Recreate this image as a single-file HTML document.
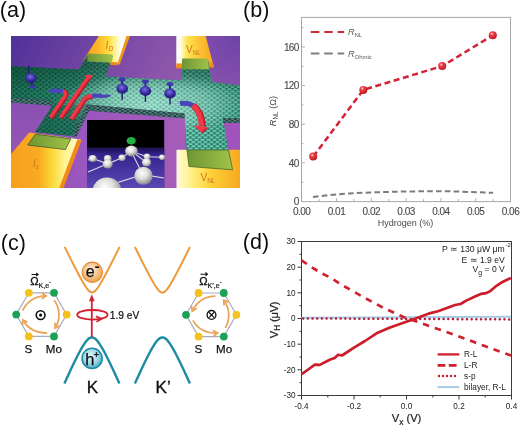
<!DOCTYPE html>
<html><head><meta charset="utf-8"><title>Figure</title>
<style>
html,body{margin:0;padding:0;background:#fff;width:520px;height:425px;overflow:hidden;}
svg{display:block;}
text{font-family:"Liberation Sans",Arial,sans-serif;}
</style></head><body>
<svg width="520" height="425" viewBox="0 0 520 425">
<defs>
  <filter id="soft" x="0" y="0" width="520" height="425" filterUnits="userSpaceOnUse"><feGaussianBlur stdDeviation="0.4"/></filter>
  <filter id="softA" x="0" y="0" width="520" height="425" filterUnits="userSpaceOnUse"><feGaussianBlur stdDeviation="0.55"/></filter>
  <radialGradient id="ball" cx="0.38" cy="0.32" r="0.7">
    <stop offset="0" stop-color="#ffd6d6"/>
    <stop offset="0.3" stop-color="#f04048"/>
    <stop offset="1" stop-color="#b81525"/>
  </radialGradient>
</defs>
<g filter="url(#soft)">
<g font-size="21.5" fill="#111">
  <text x="-0.2" y="16.8">(a)</text>
  <text x="243.1" y="16.8">(b)</text>
  <text x="0.8" y="249.6">(c)</text>
  <text x="242.8" y="249">(d)</text>
</g>
<g filter="url(#softA)"><g id="panelA">
<defs>
<clipPath id="clipA"><rect x="11" y="36" width="229" height="152"/></clipPath>
<linearGradient id="bgA" x1="11" y1="36" x2="160" y2="110" gradientUnits="userSpaceOnUse">
 <stop offset="0" stop-color="#4f3198"/><stop offset="0.5" stop-color="#7446a4"/><stop offset="1" stop-color="#9058ac"/>
</linearGradient>
<linearGradient id="bgA2" x1="0" y1="100" x2="0" y2="188" gradientUnits="userSpaceOnUse">
 <stop offset="0" stop-color="#8a50b2"/><stop offset="1" stop-color="#9a58b6"/>
</linearGradient>
<linearGradient id="grA" x1="11" y1="80" x2="240" y2="100" gradientUnits="userSpaceOnUse">
 <stop offset="0" stop-color="#0c4e3c"/><stop offset="0.3" stop-color="#145c4a"/><stop offset="0.5" stop-color="#227262"/><stop offset="0.8" stop-color="#237466"/><stop offset="1" stop-color="#1f6c5c"/>
</linearGradient>
<linearGradient id="grHi" x1="11" y1="80" x2="240" y2="100" gradientUnits="userSpaceOnUse">
 <stop offset="0" stop-color="#35a070"/><stop offset="0.4" stop-color="#58c49c"/><stop offset="0.7" stop-color="#6ad4b0"/><stop offset="1" stop-color="#4cb894"/>
</linearGradient>
<pattern id="hexA" x="0" y="0" width="6" height="4.4" patternUnits="userSpaceOnUse">
 <ellipse cx="1.5" cy="1.1" rx="2.25" ry="1.15" fill="#fff"/>
 <ellipse cx="4.5" cy="3.3" rx="2.25" ry="1.15" fill="#fff"/>
 <ellipse cx="-1.5" cy="3.3" rx="2.25" ry="1.15" fill="#fff"/>
 <ellipse cx="7.5" cy="1.1" rx="2.25" ry="1.15" fill="#fff"/>
</pattern>
<mask id="hexMask" maskUnits="userSpaceOnUse" x="0" y="0" width="520" height="425"><rect x="0" y="0" width="260" height="200" fill="url(#hexA)"/></mask>
<linearGradient id="cellG" x1="11" y1="0" x2="240" y2="0" gradientUnits="userSpaceOnUse">
 <stop offset="0" stop-color="#1f7a5c"/><stop offset="0.28" stop-color="#36987c"/><stop offset="0.45" stop-color="#6ccdb2"/><stop offset="0.6" stop-color="#82dac2"/><stop offset="0.8" stop-color="#70cdb4"/><stop offset="1" stop-color="#5cbca0"/>
</linearGradient>
<linearGradient id="grShade" x1="0" y1="66" x2="0" y2="122" gradientUnits="userSpaceOnUse">
 <stop offset="0" stop-color="#0a3a2c" stop-opacity="0.55"/><stop offset="0.45" stop-color="#0a3a2c" stop-opacity="0.1"/><stop offset="1" stop-color="#0a3a2c" stop-opacity="0"/>
</linearGradient>
<pattern id="hexE" x="0" y="0" width="5.5" height="3.2" patternUnits="userSpaceOnUse">
 <ellipse cx="1.4" cy="0.8" rx="1.9" ry="0.9" fill="#5a8a84" fill-opacity="0.9"/>
 <ellipse cx="4.15" cy="2.4" rx="1.9" ry="0.9" fill="#5a8a84" fill-opacity="0.9"/>
</pattern>
<linearGradient id="goldIs" x1="11" y1="0" x2="80" y2="0" gradientUnits="userSpaceOnUse">
 <stop offset="0" stop-color="#f6a01e"/><stop offset="0.4" stop-color="#f8aa22"/><stop offset="0.6" stop-color="#fcd838"/><stop offset="0.78" stop-color="#fff490"/><stop offset="1" stop-color="#fffad0"/>
</linearGradient>
<linearGradient id="goldID" x1="85" y1="0" x2="128" y2="0" gradientUnits="userSpaceOnUse">
 <stop offset="0" stop-color="#f7a020"/><stop offset="0.3" stop-color="#fbb628"/><stop offset="0.55" stop-color="#ffdc40"/><stop offset="0.72" stop-color="#fff6a0"/><stop offset="0.85" stop-color="#ffffff"/><stop offset="1" stop-color="#fff8e0"/>
</linearGradient>
<linearGradient id="goldVt" x1="176" y1="0" x2="212" y2="0" gradientUnits="userSpaceOnUse">
 <stop offset="0" stop-color="#ffffff"/><stop offset="0.14" stop-color="#fffbe0"/><stop offset="0.3" stop-color="#ffe655"/><stop offset="0.6" stop-color="#fcc838"/><stop offset="1" stop-color="#f8a820"/>
</linearGradient>
<linearGradient id="goldVb" x1="176" y1="0" x2="240" y2="0" gradientUnits="userSpaceOnUse">
 <stop offset="0" stop-color="#fffbe0"/><stop offset="0.25" stop-color="#fff080"/><stop offset="0.55" stop-color="#fcd038"/><stop offset="1" stop-color="#f8a820"/>
</linearGradient>
<radialGradient id="trDark" cx="240" cy="36" r="75" gradientUnits="userSpaceOnUse">
 <stop offset="0" stop-color="#5030a8" stop-opacity="0.55"/><stop offset="1" stop-color="#5030a8" stop-opacity="0"/>
</radialGradient>
<radialGradient id="grFront" cx="150" cy="104" r="75" gradientUnits="userSpaceOnUse" gradientTransform="translate(150,104) scale(1.25,0.42) translate(-150,-104)">
 <stop offset="0" stop-color="#d0fff0" stop-opacity="0.5"/><stop offset="0.6" stop-color="#d0fff0" stop-opacity="0.3"/><stop offset="1" stop-color="#d0fff0" stop-opacity="0"/>
</radialGradient>
<linearGradient id="frameG" x1="74" y1="0" x2="185" y2="0" gradientUnits="userSpaceOnUse">
 <stop offset="0" stop-color="#9a56c0"/><stop offset="1" stop-color="#a65cb8"/>
</linearGradient>
<linearGradient id="padG" x1="0" y1="0" x2="1" y2="0">
 <stop offset="0" stop-color="#6e9634"/><stop offset="1" stop-color="#a2c248"/>
</linearGradient>
<linearGradient id="floorA" x1="0" y1="146" x2="0" y2="188" gradientUnits="userSpaceOnUse">
 <stop offset="0" stop-color="#140a40"/><stop offset="0.2" stop-color="#34248e"/><stop offset="1" stop-color="#5a48b4"/>
</linearGradient>
<radialGradient id="sph" cx="0.42" cy="0.35" r="0.65">
 <stop offset="0" stop-color="#ffffff"/><stop offset="0.5" stop-color="#dcdcd6"/><stop offset="1" stop-color="#868690"/>
</radialGradient>
<radialGradient id="spin" cx="0.45" cy="0.35" r="0.65">
 <stop offset="0" stop-color="#7a70e0"/><stop offset="0.55" stop-color="#3c30a8"/><stop offset="1" stop-color="#1e1668"/>
</radialGradient>
<linearGradient id="redbar" x1="0" y1="0" x2="1" y2="0">
 <stop offset="0" stop-color="#ff4a50"/><stop offset="1" stop-color="#d41c2c"/>
</linearGradient>
</defs>
<g clip-path="url(#clipA)">
<rect x="11" y="36" width="229" height="152" fill="url(#bgA)"/>
<rect x="120" y="36" width="120" height="60" fill="url(#trDark)"/>
<path d="M11,102 L52,105 L88,110 L185,118 L240,122.5 L240,188 L11,188Z" fill="url(#bgA2)"/>
<path d="M74,109.5 L185,117.8 L185,188 L74,188Z" fill="url(#frameG)"/>
<path d="M222,122.5 L240,122.5 L240,152 L228,152Z" fill="#a052bc"/>
<path d="M98.8,36 L127,36 L118,63.5 L83.8,59.5Z" fill="url(#goldID)"/>
<path d="M83.8,59.2 L118,62.5 L117.5,65.5 L83.5,62Z" fill="#f08a14"/>
<path d="M126.5,36 L130,36 L119.5,65 L117.5,63.5Z" fill="#f39a1e"/>
<path d="M176.3,36 L205.7,36 L213.6,66 L176.3,67Z" fill="url(#goldVt)"/>
<path d="M176.3,63.5 L213,63 L214,67.5 L176.3,68.5Z" fill="#f29018"/>
<path d="M29.2,132.4 L80.8,139.6 L61,188 L11,188 L11,154Z" fill="url(#goldIs)"/>
<path d="M77.5,139.2 L81.8,139.8 L63.5,188 L59.2,188Z" fill="#f28a18"/>
<path d="M176.5,149.8 L240,149.8 L240,188 L176.5,188Z" fill="url(#goldVb)"/>
<path d="M11,66.3 L79.2,69.6 L87.3,55 L112.7,56 L105.5,76.5 L182,80.5 L182,60 L208,60 L211.6,82 L240,85.5 L240,118 L223,118 L228.6,152 L187,152 L184.4,113.5 L87,104.5 L72.3,136 L35.4,132 L52.3,105.5 L50.5,100.8 L11,97.8Z" fill="url(#grA)"/>
<g mask="url(#hexMask)"><path d="M11,66.3 L79.2,69.6 L87.3,55 L112.7,56 L105.5,76.5 L182,80.5 L182,60 L208,60 L211.6,82 L240,85.5 L240,118 L223,118 L228.6,152 L187,152 L184.4,113.5 L87,104.5 L72.3,136 L35.4,132 L52.3,105.5 L50.5,100.8 L11,97.8Z" fill="url(#cellG)"/></g>
<path d="M11,66.3 L79.2,69.6 L87.3,55 L112.7,56 L105.5,76.5 L182,80.5 L182,60 L208,60 L211.6,82 L240,85.5 L240,118 L223,118 L228.6,152 L187,152 L184.4,113.5 L87,104.5 L72.3,136 L35.4,132 L52.3,105.5 L50.5,100.8 L11,97.8Z" fill="url(#grShade)"/>
<path d="M11,66.3 L79.2,69.6 L87.3,55 L112.7,56 L105.5,76.5 L182,80.5 L182,60 L208,60 L211.6,82 L240,85.5 L240,118 L223,118 L228.6,152 L187,152 L184.4,113.5 L87,104.5 L72.3,136 L35.4,132 L52.3,105.5 L50.5,100.8 L11,97.8Z" fill="url(#grFront)"/>
<path d="M52.3,105.5 L87,104.5 L72.3,136 L35.4,132Z" fill="#0a3a30" fill-opacity="0.28"/>
<path d="M11,97.8 L50.5,100.8 L52.3,105.5 L11,102.5Z" fill="#1c3a3e"/>
<path d="M11,97.8 L50.5,100.8 L52.3,105.5 L11,102.5Z" fill="url(#hexE)"/>
<path d="M87,104.5 L184.4,113.5 L184.6,118.3 L86,110.4Z" fill="#1c3a3e"/>
<path d="M87,104.5 L184.4,113.5 L184.6,118.3 L86,110.4Z" fill="url(#hexE)"/>
<path d="M87,104.5 L91,106.5 L76,137.5 L72.3,136Z" fill="#1c3a3e"/>
<path d="M87,104.5 L91,106.5 L76,137.5 L72.3,136Z" fill="url(#hexE)"/>
<path d="M223,118 L240,118 L240,123 L223.4,123Z" fill="#1c3a3e"/>
<path d="M223,118 L240,118 L240,123 L223.4,123Z" fill="url(#hexE)"/>
<path d="M87.3,53.5 L112.7,54.6 L112,62.7 L87.3,61.5Z" fill="url(#padG)"/>
<path d="M182.2,58.5 L207.7,58.5 L209,69.3 L182,69.3Z" fill="url(#padG)"/>
<path d="M35.4,134.2 L70.8,138.8 L65.4,149.6 L27.7,145Z" fill="url(#padG)" stroke="#3f5a28" stroke-width="0.8"/>
<path d="M187,150 L228.5,150 L232.6,169.8 L189,166.5Z" fill="url(#padG)" stroke="#4a6a2a" stroke-width="0.8"/>
<rect x="87" y="120" width="77.2" height="68" fill="#000"/>
<rect x="87" y="147.5" width="77.2" height="41" fill="url(#floorA)"/>
<path d="M92.7,158.5 L107.7,163.8 L122,157.8 L131,151 L147,156.8 L162,157.3 M131,151 L142.8,174.6 L106.5,186 M142.8,174.6 L164,178 M107.7,163.8 L88,172 M146.5,162.4 L131,151 M92.7,158.5 L88,160" stroke="#dcdce4" stroke-width="1.1" fill="none"/>
<ellipse cx="107" cy="191.5" rx="14.5" ry="14" fill="url(#sph)"/>
<ellipse cx="143.5" cy="175.8" rx="9.2" ry="9" fill="url(#sph)"/>
<ellipse cx="92.7" cy="158.5" rx="4" ry="3.6" fill="url(#sph)"/>
<ellipse cx="107.7" cy="158.5" rx="3.8" ry="3.4" fill="url(#sph)"/>
<ellipse cx="107.7" cy="164" rx="5" ry="4.6" fill="url(#sph)"/>
<ellipse cx="122" cy="157.8" rx="3.6" ry="3.3" fill="url(#sph)"/>
<ellipse cx="147" cy="156.6" rx="3.4" ry="3.1" fill="url(#sph)"/>
<ellipse cx="146.5" cy="162.4" rx="4.6" ry="4.2" fill="url(#sph)"/>
<ellipse cx="162" cy="157.3" rx="3" ry="2.8" fill="url(#sph)"/>
<ellipse cx="131.4" cy="151" rx="6.3" ry="5.4" fill="url(#sph)"/>
<ellipse cx="131.2" cy="140.7" rx="4.6" ry="3.8" fill="#20b040"/>
<path d="M28.6,78.3 V65.8" stroke="#241c6c" stroke-width="1.4"/>
<path d="M31.8,81.3 V86.3" stroke="#2a2080" stroke-width="2"/>
<ellipse cx="32.3" cy="87.1" rx="3" ry="1.7" fill="#4036b0"/>
<ellipse cx="30.8" cy="78.3" rx="5.8" ry="5" fill="url(#spin)"/>
<path d="M122.2,88.8 V99.8" stroke="#241c6c" stroke-width="1.4"/>
<path d="M122.2,84.8 V80.3" stroke="#2a2080" stroke-width="2"/>
<ellipse cx="122.2" cy="79.3" rx="3.4" ry="2" fill="#4036b0"/>
<ellipse cx="122.2" cy="88.8" rx="5.8" ry="5" fill="url(#spin)"/>
<path d="M145.4,91 V102" stroke="#241c6c" stroke-width="1.4"/>
<path d="M145.4,87 V82.5" stroke="#2a2080" stroke-width="2"/>
<ellipse cx="145.4" cy="81.5" rx="3.4" ry="2" fill="#4036b0"/>
<ellipse cx="145.4" cy="91" rx="5.8" ry="5" fill="url(#spin)"/>
<path d="M170,93.5 V104.5" stroke="#241c6c" stroke-width="1.4"/>
<path d="M170,89.5 V85.0" stroke="#2a2080" stroke-width="2"/>
<ellipse cx="170" cy="84.0" rx="3.4" ry="2" fill="#4036b0"/>
<ellipse cx="170" cy="93.5" rx="5.8" ry="5" fill="url(#spin)"/>
<path d="M51,118 L65.4,97 Q68,92 63,91.2" stroke="#b81a2a" stroke-width="4.6" fill="none"/>
<path d="M50.2,117.4 L64.6,96.4 Q67,91.6 62.4,90.8" stroke="#f03846" stroke-width="3.4" fill="none"/>
<path d="M63,89 L52,88.6 L47.5,91.2 L52,93 L63,93.2Z" fill="#4a44b8"/>
<path d="M61,118 L89.5,77" stroke="#b81a2a" stroke-width="4.6" fill="none"/>
<path d="M60.2,117.4 L88.7,76.4" stroke="#f03846" stroke-width="3.4" fill="none"/>
<path d="M83.5,75.5 L93,74.8 L90.5,79Z" fill="#f03846"/>
<path d="M71.8,119.4 L84.2,100.6 Q87.5,96.4 93,96.4" stroke="#b81a2a" stroke-width="4.6" fill="none"/>
<path d="M71,118.8 L83.4,100 Q86.7,95.8 92.5,95.8" stroke="#f03846" stroke-width="3.4" fill="none"/>
<path d="M92,93.8 L100,93.6 Q104,95.6 108,94.2 L111.5,95.8 L108,97.2 Q104,98.2 100,97.8 L92,97.8Z" fill="#4a44b8"/>
<path d="M180,103.6 Q188,102.4 193.5,106" stroke="#4a44b8" stroke-width="5" fill="none"/>
<path d="M193.6,105.8 Q201.6,112 202.6,126.5" stroke="#b81a2a" stroke-width="6.6" fill="none"/>
<path d="M192.8,105.2 Q200.6,111.5 201.6,126" stroke="#f03846" stroke-width="5.2" fill="none"/>
<path d="M193.8,125.2 L208.8,127.6 L202,133.6Z" fill="#f03846"/>
<path d="M208.8,127.6 L202,133.6 L203.5,130Z" fill="#b81a2a"/>
<text x="105.6" y="49.2" font-size="10" font-style="italic" fill="#d27420">I<tspan font-size="6.5" dy="2.2">D</tspan></text>
<text x="186" y="53" font-size="10" fill="#d27420">V<tspan font-size="6.5" dy="2.2">NL</tspan></text>
<text x="33" y="167" font-size="10" font-style="italic" fill="#d27420">I<tspan font-size="6.5" dy="2.2">s</tspan></text>
<text x="200.5" y="180.5" font-size="10" fill="#d27420">V<tspan font-size="6.5" dy="2.2">NL</tspan></text>
</g>
</g></g>
<g id="panelB">
<rect x="301.5" y="17.4" width="209" height="184.2" fill="none" stroke="#a8a8a8" stroke-width="1"/>
<path d="M301.5,182.3h2 M301.5,162.9h3.5 M301.5,143.6h2 M301.5,124.3h3.5 M301.5,105.0h2 M301.5,85.6h3.5 M301.5,66.3h2 M301.5,47.0h3.5 M301.5,27.7h2 M319.1,201.6v-2.5 M336.5,201.6v-3.5 M353.9,201.6v-2.5 M371.3,201.6v-3.5 M388.7,201.6v-2.5 M406.1,201.6v-3.5 M423.5,201.6v-2.5 M440.9,201.6v-3.5 M458.3,201.6v-2.5 M475.7,201.6v-3.5 M493.1,201.6v-2.5" stroke="#a0a0a0" stroke-width="0.8" fill="none"/>
<g font-size="10" fill="#4a4a4a" text-anchor="end" letter-spacing="-0.6" stroke="#4a4a4a" stroke-width="0.12">
<text x="298.8" y="205.2">0</text>
<text x="298.8" y="166.5">40</text>
<text x="298.8" y="127.9">80</text>
<text x="298.8" y="89.2">120</text>
<text x="298.8" y="50.6">160</text>
</g>
<g font-size="10" fill="#4a4a4a" text-anchor="middle" letter-spacing="-0.5" stroke="#4a4a4a" stroke-width="0.12">
<text x="301.7" y="214.5">0.00</text>
<text x="336.5" y="214.5">0.01</text>
<text x="371.3" y="214.5">0.02</text>
<text x="406.1" y="214.5">0.03</text>
<text x="440.9" y="214.5">0.04</text>
<text x="475.7" y="214.5">0.05</text>
<text x="510.5" y="214.5">0.06</text>
</g>
<text x="405.6" y="226" font-size="9" fill="#4a4a4a" text-anchor="middle">Hydrogen (%)</text>
<text transform="translate(276.4,111) rotate(-90)" font-size="9.2" fill="#484848" text-anchor="middle"><tspan font-style="italic">R</tspan><tspan font-size="6.4" dy="1.6">NL</tspan><tspan dy="-1.6"> (Ω)</tspan></text>
<path d="M310.8,32h33.4" stroke="#d22a3a" stroke-width="2.2" stroke-dasharray="8.6,4.8" fill="none"/>
<path d="M310.8,53.5h33.4" stroke="#808080" stroke-width="2.2" stroke-dasharray="8.6,4.8" fill="none"/>
<text x="348" y="35" font-size="9" fill="#555"><tspan font-style="italic">R</tspan><tspan font-size="6" dy="2.3">NL</tspan></text>
<text x="348" y="57" font-size="9" fill="#555"><tspan font-style="italic">R</tspan><tspan font-size="6" dy="2.3">Ohmic</tspan></text>
<path d="M313.0,196.9 L330.0,195.0 L350.0,193.4 L370.0,192.5 L400.0,191.6 L430.0,191.2 L450.0,191.3 L470.0,192.0 L493.0,192.8" stroke="#7c7c7c" stroke-width="2" stroke-dasharray="5.6,3.2" fill="none"/>
<path d="M313.2,156.6 L363.3,89.9 L442.2,66.1 L492.8,35.3" stroke="#d42434" stroke-width="2.5" stroke-dasharray="6,3.6" fill="none"/>
<circle cx="313.2" cy="156.6" r="4" fill="url(#ball)"/>
<circle cx="363.3" cy="89.9" r="4" fill="url(#ball)"/>
<circle cx="442.2" cy="66.1" r="4" fill="url(#ball)"/>
<circle cx="492.8" cy="35.3" r="4" fill="url(#ball)"/>
</g>
<g id="panelC">
<path d="M64.60,246.90 L65.97,249.66 L67.35,252.41 L68.72,255.15 L70.10,257.88 L71.47,260.60 L72.85,263.30 L74.22,265.99 L75.60,268.66 L76.97,271.30 L78.35,273.91 L79.72,276.47 L81.10,278.98 L82.47,281.43 L83.85,283.77 L85.22,285.98 L86.60,288.00 L87.97,289.77 L89.35,291.17 L90.72,292.08 L92.10,292.40 L93.47,292.08 L94.85,291.17 L96.22,289.77 L97.60,288.00 L98.97,285.98 L100.35,283.77 L101.72,281.43 L103.10,278.98 L104.47,276.47 L105.85,273.91 L107.22,271.30 L108.60,268.66 L109.97,265.99 L111.35,263.30 L112.72,260.60 L114.10,257.88 L115.47,255.15 L116.85,252.41 L118.22,249.66 L119.60,246.90" stroke="#eb9a3c" stroke-width="2" fill="none"/>
<path d="M134.90,247.00 L136.28,249.76 L137.65,252.52 L139.03,255.27 L140.40,258.00 L141.78,260.73 L143.15,263.44 L144.53,266.13 L145.90,268.80 L147.28,271.45 L148.65,274.06 L150.03,276.64 L151.40,279.15 L152.78,281.60 L154.15,283.95 L155.53,286.17 L156.90,288.20 L158.28,289.96 L159.65,291.36 L161.03,292.28 L162.40,292.60 L163.78,292.28 L165.15,291.36 L166.53,289.96 L167.90,288.20 L169.28,286.17 L170.65,283.95 L172.03,281.60 L173.40,279.15 L174.78,276.64 L176.15,274.06 L177.53,271.45 L178.90,268.80 L180.28,266.13 L181.65,263.44 L183.03,260.73 L184.40,258.00 L185.78,255.27 L187.15,252.52 L188.53,249.76 L189.90,247.00" stroke="#eb9a3c" stroke-width="2" fill="none"/>
<path d="M64.40,383.40 L65.78,380.39 L67.15,377.40 L68.53,374.43 L69.90,371.48 L71.28,368.56 L72.65,365.67 L74.03,362.81 L75.40,360.00 L76.78,357.24 L78.15,354.55 L79.53,351.94 L80.90,349.43 L82.28,347.04 L83.65,344.80 L85.03,342.77 L86.40,340.97 L87.78,339.48 L89.15,338.35 L90.53,337.64 L91.90,337.40 L93.28,337.64 L94.65,338.35 L96.03,339.48 L97.40,340.97 L98.78,342.77 L100.15,344.80 L101.53,347.04 L102.90,349.43 L104.28,351.94 L105.65,354.55 L107.03,357.24 L108.40,360.00 L109.78,362.81 L111.15,365.67 L112.53,368.56 L113.90,371.48 L115.28,374.43 L116.65,377.40 L118.03,380.39 L119.40,383.40" stroke="#1f8ca3" stroke-width="2.4" fill="none"/>
<path d="M134.90,383.40 L136.28,380.39 L137.65,377.40 L139.03,374.43 L140.40,371.48 L141.78,368.56 L143.15,365.67 L144.53,362.81 L145.90,360.00 L147.28,357.24 L148.65,354.55 L150.03,351.94 L151.40,349.43 L152.78,347.04 L154.15,344.80 L155.53,342.77 L156.90,340.97 L158.28,339.48 L159.65,338.35 L161.03,337.64 L162.40,337.40 L163.78,337.64 L165.15,338.35 L166.53,339.48 L167.90,340.97 L169.28,342.77 L170.65,344.80 L172.03,347.04 L173.40,349.43 L174.78,351.94 L176.15,354.55 L177.53,357.24 L178.90,360.00 L180.28,362.81 L181.65,365.67 L183.03,368.56 L184.40,371.48 L185.78,374.43 L187.15,377.40 L188.53,380.39 L189.90,383.40" stroke="#1f8ca3" stroke-width="2.4" fill="none"/>
<defs><radialGradient id="eg" cx="0.45" cy="0.4" r="0.6"><stop offset="0" stop-color="#fdeede"/><stop offset="0.55" stop-color="#f7c892"/><stop offset="1" stop-color="#eba04a"/></radialGradient><radialGradient id="hg" cx="0.45" cy="0.4" r="0.6"><stop offset="0" stop-color="#e8f8fc"/><stop offset="0.55" stop-color="#a6dcea"/><stop offset="1" stop-color="#4aaac4"/></radialGradient></defs>
<circle cx="92.3" cy="272.2" r="10.1" fill="url(#eg)" stroke="#e38c34" stroke-width="1.1"/>
<circle cx="92.1" cy="358.4" r="10.1" fill="url(#hg)" stroke="#1f8aa6" stroke-width="1.5"/>
<text x="90.2" y="277.4" font-size="16" fill="#111" text-anchor="middle" stroke="#111" stroke-width="0.25">e</text>
<path d="M95.2,267.2h3.9" stroke="#111" stroke-width="1.6"/>
<text x="89.9" y="365.3" font-size="16.5" fill="#111" text-anchor="middle" stroke="#111" stroke-width="0.25">h</text>
<path d="M93.7,354.6h5.2M96.3,352v5.2" stroke="#111" stroke-width="1"/>
<path d="M91.8,337V300" stroke="#d3212f" stroke-width="1.8"/>
<path d="M91.8,294.3L94.6,301.3L89,301.3Z" fill="#d3212f"/>
<ellipse cx="92.4" cy="314.8" rx="15.2" ry="4.8" fill="none" stroke="#d3212f" stroke-width="1.8"/>
<path d="M96,316.4L101.6,318.8L96.5,321.8" fill="none" stroke="#d3212f" stroke-width="1.7"/>
<text x="109.8" y="318.7" font-size="10.2" fill="#111" stroke="#111" stroke-width="0.2">1.9 eV</text>
<text x="86.8" y="392.6" font-size="17" fill="#111" stroke="#111" stroke-width="0.35">K</text>
<text x="155.6" y="392.8" font-size="17" fill="#111" stroke="#111" stroke-width="0.35">K’</text>
<path d="M16.2,314.6 L28.8,292.8 L54.0,292.8 L66.6,314.6 L54.0,336.4 L28.8,336.4Z" fill="none" stroke="#aaaac2" stroke-width="1.2"/>
<path d="M22.62,310.61 A25.0,25.0 0 0 1 45.72,295.89" fill="none" stroke="#eba55a" stroke-width="1.8"/>
<path d="M41.68,298.74 L46.12,295.90 L41.76,292.94" fill="none" stroke="#eba55a" stroke-width="1.8" stroke-linejoin="miter"/>
<path d="M54.25,300.33 A25.0,25.0 0 0 1 55.44,327.69" fill="none" stroke="#eba55a" stroke-width="1.8"/>
<path d="M54.99,322.77 L55.24,328.04 L59.98,325.74" fill="none" stroke="#eba55a" stroke-width="1.8" stroke-linejoin="miter"/>
<path d="M47.33,332.86 A25.0,25.0 0 0 1 23.04,320.21" fill="none" stroke="#eba55a" stroke-width="1.8"/>
<path d="M27.52,322.28 L22.84,319.86 L22.47,325.12" fill="none" stroke="#eba55a" stroke-width="1.8" stroke-linejoin="miter"/>
<circle cx="16.2" cy="314.6" r="3.9" fill="#1fa254"/>
<circle cx="28.8" cy="292.8" r="3.9" fill="#f5c21b"/>
<circle cx="54.0" cy="292.8" r="3.9" fill="#1fa254"/>
<circle cx="66.6" cy="314.6" r="3.9" fill="#f5c21b"/>
<circle cx="54.0" cy="336.4" r="3.9" fill="#1fa254"/>
<circle cx="28.8" cy="336.4" r="3.9" fill="#f5c21b"/>
<path d="M186.0,314.8 L198.6,293.0 L223.8,293.0 L236.4,314.8 L223.8,336.6 L198.6,336.6Z" fill="none" stroke="#aaaac2" stroke-width="1.2"/>
<path d="M215.52,296.09 A25.0,25.0 0 0 0 192.42,310.81" fill="none" stroke="#eba55a" stroke-width="1.8"/>
<path d="M191.42,305.97 L192.26,311.17 L196.71,308.35" fill="none" stroke="#eba55a" stroke-width="1.8" stroke-linejoin="miter"/>
<path d="M225.24,327.89 A25.0,25.0 0 0 0 224.05,300.53" fill="none" stroke="#eba55a" stroke-width="1.8"/>
<path d="M228.74,302.09 L223.81,300.21 L224.03,305.47" fill="none" stroke="#eba55a" stroke-width="1.8" stroke-linejoin="miter"/>
<path d="M192.84,320.41 A25.0,25.0 0 0 0 217.13,333.06" fill="none" stroke="#eba55a" stroke-width="1.8"/>
<path d="M213.44,336.34 L217.53,333.02 L212.86,330.57" fill="none" stroke="#eba55a" stroke-width="1.8" stroke-linejoin="miter"/>
<circle cx="186.0" cy="314.8" r="3.9" fill="#1fa254"/>
<circle cx="198.6" cy="293.0" r="3.9" fill="#f5c21b"/>
<circle cx="223.8" cy="293.0" r="3.9" fill="#1fa254"/>
<circle cx="236.4" cy="314.8" r="3.9" fill="#f5c21b"/>
<circle cx="223.8" cy="336.6" r="3.9" fill="#1fa254"/>
<circle cx="198.6" cy="336.6" r="3.9" fill="#f5c21b"/>
<circle cx="40.6" cy="315.1" r="4.4" fill="none" stroke="#111" stroke-width="1.6"/><circle cx="40.6" cy="315.1" r="1.6" fill="#111"/>
<circle cx="211.5" cy="314.9" r="4.4" fill="none" stroke="#111" stroke-width="1.3"/><path d="M208.6,312l5.8,5.8M214.4,312l-5.8,5.8" stroke="#111" stroke-width="1.1"/>
<g font-size="11.6" fill="#111" stroke="#111" stroke-width="0.25">
<text x="24.6" y="352.6">S</text><text x="45.8" y="352.6">Mo</text>
<text x="194.6" y="352.8">S</text><text x="216" y="352.8">Mo</text>
</g>
<text x="30.2" y="285" font-size="11.2" fill="#111" stroke="#111" stroke-width="0.3">Ω<tspan font-size="7" dy="2.8" stroke-width="0.2">K,e</tspan><tspan font-size="5.5" dy="-4.2" stroke-width="0.2">-</tspan></text>
<path d="M31.5,274.5h6.5M36.2,272.8l1.9,1.7l-1.9,1.7" stroke="#111" stroke-width="1.1" fill="none"/>
<text x="199.2" y="285.1" font-size="11.2" fill="#111" stroke="#111" stroke-width="0.3">Ω<tspan font-size="7" dy="2.8" stroke-width="0.2">K’,e</tspan><tspan font-size="5.5" dy="-4.2" stroke-width="0.2">-</tspan></text>
<path d="M200.5,274.2h6.8M205.5,272.5l1.9,1.7l-1.9,1.7" stroke="#111" stroke-width="1.1" fill="none"/>
</g>
<g id="panelD">
<rect x="301.5" y="241.5" width="210" height="154" fill="none" stroke="#3a3a3a" stroke-width="1"/>
<path d="M301.5,395.5h-4 M301.5,382.7h-2 M301.5,369.8h-4 M301.5,357.0h-2 M301.5,344.2h-4 M301.5,331.3h-2 M301.5,318.5h-4 M301.5,305.7h-2 M301.5,292.8h-4 M301.5,280.0h-2 M301.5,267.2h-4 M301.5,254.3h-2 M301.5,241.5h-4 M301.5,395.5v4 M327.8,395.5v2 M354.0,395.5v4 M380.2,395.5v2 M406.5,395.5v4 M432.8,395.5v2 M459.0,395.5v4 M485.2,395.5v2 M511.5,395.5v4" stroke="#3a3a3a" stroke-width="1" fill="none"/>
<g font-size="8.2" fill="#222" text-anchor="end">
<text x="295.6" y="398.4">-30</text>
<text x="295.6" y="372.7">-20</text>
<text x="295.6" y="347.1">-10</text>
<text x="295.6" y="321.4">0</text>
<text x="295.6" y="295.7">10</text>
<text x="295.6" y="270.1">20</text>
<text x="295.6" y="244.4">30</text>
</g>
<g font-size="8.2" fill="#222" text-anchor="middle">
<text x="301.5" y="409">-0.4</text>
<text x="354.0" y="409">-0.2</text>
<text x="406.5" y="409">0.0</text>
<text x="459.0" y="409">0.2</text>
<text x="511.5" y="409">0.4</text>
</g>
<text transform="translate(278.3,320) rotate(-90)" font-size="11.2" fill="#222" stroke="#222" stroke-width="0.2" text-anchor="middle">V<tspan font-size="8.4" dy="2">H</tspan><tspan dy="-2" letter-spacing="-0.3"> (μV)</tspan></text>
<text x="406.5" y="421.9" font-size="11.2" fill="#222" stroke="#222" stroke-width="0.2" text-anchor="middle">V<tspan font-size="8.4" dy="2.6">x</tspan><tspan dy="-2.6"> (V)</tspan></text>
<g font-size="8.6" fill="#222" text-anchor="end">
<text x="504.6" y="251.8">P ≃ 130 μW μm</text>
<text x="505.4" y="247.4" text-anchor="start" font-size="6">-2</text>
<text x="504.8" y="262.8">E ≃ 1.9 eV</text>
<text x="504.8" y="272.4">V<tspan font-size="7" dy="2.8">g</tspan><tspan dy="-2.8"> = 0 V</tspan></text>
</g>
<path d="M301.5,317.7L511,316.7" stroke="#a9cbe6" stroke-width="2" fill="none"/>
<path d="M303.2,318.4L511,319.4" stroke="#b41e38" stroke-width="2.5" stroke-dasharray="0.01,4.67" stroke-linecap="round" fill="none"/>
<path d="M301.6,374.2 L308.2,369.5 L314.8,364.6 L319.8,364.9 L329.7,359.7 L334.6,358.0 L338.2,354.7 L342.0,355.5 L354.4,347.3 L365.0,341.0 L376.5,333.3 L390.0,327.5 L403.5,322.7 L415.0,318.8 L430.4,313.1 L438.0,311.2 L449.6,306.9 L455.0,305.0 L460.6,304.0 L466.3,300.6 L475.0,296.5 L481.3,293.8 L486.3,293.1 L490.0,291.3 L495.0,286.9 L502.5,281.9 L510.8,278.1" stroke="#cc1e2c" stroke-width="2.7" fill="none" stroke-linejoin="round"/>
<path d="M301.5,260.3 L309.4,265.8 L320.2,272.5 L331.0,277.9 L341.7,284.9 L353.2,291.3 L363.9,297.4 L384.2,308.3 L403.5,316.9 L422.7,323.7 L441.9,330.4 L463.0,338.0 L486.0,346.5 L511.0,355.5" stroke="#d0202e" stroke-width="2.7" stroke-dasharray="6.5,6" fill="none"/>
<path d="M437.6,354.4h21.7" stroke="#d0202e" stroke-width="2.3"/>
<path d="M437.6,365.4h21.7" stroke="#d0202e" stroke-width="2.6" stroke-dasharray="7.8,3.4"/>
<path d="M439,376h20" stroke="#c41e30" stroke-width="2.4" stroke-dasharray="0.01,4" stroke-linecap="round"/>
<path d="M437.6,387.1h21.7" stroke="#a9cbe6" stroke-width="2"/>
<g font-size="8.3" fill="#222">
<text x="464" y="357.4">R-L</text>
<text x="464" y="368.4">L-R</text>
<text x="464" y="379.0">s-p</text>
<text x="464" y="390.1">bilayer, R-L</text>
</g>
</g>
</g>
</svg>
</body></html>
